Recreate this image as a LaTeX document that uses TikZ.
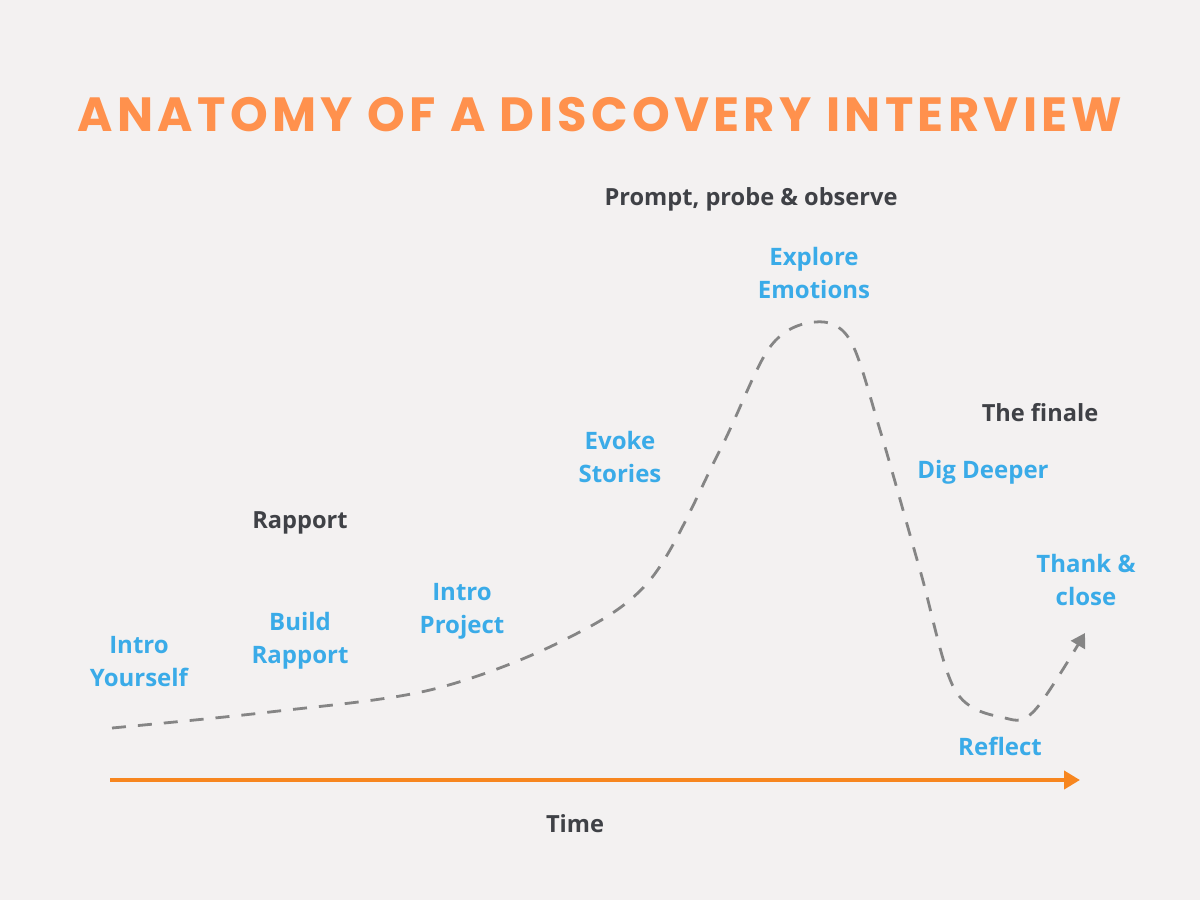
\documentclass[tikz,border=0pt]{standalone}
\usepackage{fontspec}
\setmainfont{Open Sans}
\newfontfamily\titlefont[LetterSpace=9]{Poppins}
\usetikzlibrary{arrows.meta}
\definecolor{bg}{HTML}{F3F1F1}
\definecolor{ttl}{HTML}{FF914D}
\definecolor{lbl}{HTML}{3AABE8}
\definecolor{drk}{HTML}{3F4146}
\definecolor{crv}{HTML}{858585}
\definecolor{axo}{HTML}{F7861F}
\tikzset{
  stage/.style={text=lbl,font=\fontsize{12}{16.5}\selectfont\bfseries,align=center},
  phase/.style={text=drk,font=\fontsize{11.8}{14}\selectfont\bfseries},
}
\begin{document}
\begin{tikzpicture}[x=0.5pt,y=-0.5pt]
\fill[bg] (0,0) rectangle (1200,900);
\useasboundingbox (0,0) rectangle (1200,900);
\node (title) at (600,115) {\titlefont\fontsize{24}{28}\selectfont\bfseries\color{ttl}ANATOMY OF A DISCOVERY INTERVIEW};
\node[phase] (p1) at (751,199) {Prompt, probe \& observe};
\node[phase] (p2) at (300,523) {Rapport};
\node[phase] (p3) at (1040,413) {The finale};
\node[phase] (time) at (575,824) {Time};
\node[stage] (s1) at (139,662) {Intro\\Yourself};
\node[stage] (s2) at (300,641) {Build\\Rapport};
\node[stage] (s3) at (462,611) {Intro\\Project};
\node[stage] (s4) at (620,457) {Evoke\\Stories};
\node[stage] (s5) at (814,273) {Explore\\Emotions};
\node[stage] (s6) at (983,472) {Dig Deeper};
\node[stage] (s7) at (1000,746) {Reflect};
\node[stage] (s8) at (1086,580) {Thank \&\\close};
\coordinate (a0) at (110,780);
\coordinate (a1) at (1080,780);
\draw[axo,line width=2pt,-{Triangle[length=8pt,width=9pt]}] (a0) -- (a1);
\draw[crv,line width=1.4pt,dash pattern=on 7pt off 6pt,-{Triangle[length=7pt,width=8pt]}]
  plot[smooth,tension=0.55] coordinates {(112,728) (270,712) (430,690) (560,642) (650,580) (720,450) (770,347) (815,322) (850,340) (880,430) (920,570) (955,690) (1005,718) (1035,710) (1085,633)};
\end{tikzpicture}
\end{document}
